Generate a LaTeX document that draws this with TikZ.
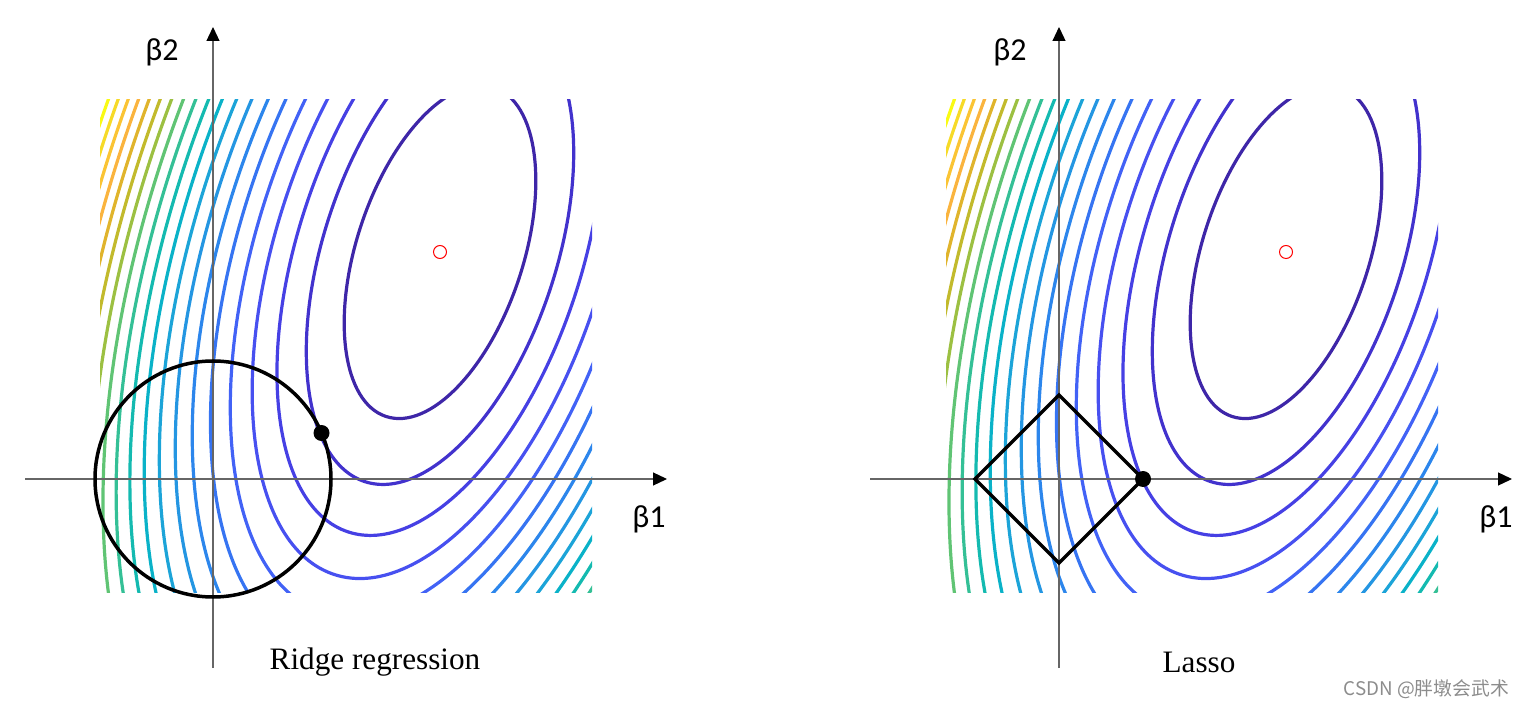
\documentclass[tikz,border=0pt]{standalone}
\usepackage{fontspec}
\setmainfont{Liberation Serif}
\newfontfamily\betafont{Carlito}
\newfontfamily\cjkfont{Noto Sans CJK SC}
\usetikzlibrary{arrows.meta}

% contour colours, inner (1) to outer (20)
\definecolor{lv1}{RGB}{62,38,168}
\definecolor{lv2}{RGB}{66,50,205}
\definecolor{lv3}{RGB}{70,64,228}
\definecolor{lv4}{RGB}{71,80,240}
\definecolor{lv5}{RGB}{66,98,246}
\definecolor{lv6}{RGB}{54,116,242}
\definecolor{lv7}{RGB}{44,134,236}
\definecolor{lv8}{RGB}{36,150,226}
\definecolor{lv9}{RGB}{28,164,216}
\definecolor{lv10}{RGB}{10,178,200}
\definecolor{lv11}{RGB}{20,186,176}
\definecolor{lv12}{RGB}{52,192,150}
\definecolor{lv13}{RGB}{96,196,116}
\definecolor{lv14}{RGB}{156,192,66}
\definecolor{lv15}{RGB}{194,186,44}
\definecolor{lv16}{RGB}{224,180,44}
\definecolor{lv17}{RGB}{250,180,62}
\definecolor{lv18}{RGB}{250,196,52}
\definecolor{lv19}{RGB}{246,218,40}
\definecolor{lv20}{RGB}{249,250,20}

\tikzset{
  contour/.style={line width=1.6pt},
  axis/.style={draw=black!60,line width=0.6pt,-{Triangle[length=7pt,width=6.5pt,black]}},
  constraint/.style={draw=black,line width=1.75pt},
  axlabel/.style={font=\betafont\fontsize{16}{16}\selectfont},
  caption/.style={font=\fontsize{15.6}{16}\selectfont},
}

% level sets of the loss, clipped to the plot window
\newcommand{\costcontours}{%
  \begin{scope}
    \clip (-113,-113) rectangle (379,379);
    \foreach \n in {1,...,20}{
      \pgfmathsetmacro{\s}{sqrt(\n+0.055)}
      \draw[contour,lv\n,rotate around={71.84:(227,227)}] (227,227)
        ellipse [x radius=168.55*\s,y radius=81.11*\s];
    }
  \end{scope}}

\begin{document}
\begin{tikzpicture}[x=0.5pt,y=0.5pt]
\useasboundingbox (0,0) rectangle (1529,707);

% ridge
\begin{scope}[shift={(213,228)}]
  \costcontours
  \draw[axis] (-188,0) -- (454,0);
  \draw[axis] (0,-189) -- (0,452);
  \node[axlabel] (rb1) at (436,-40) {β1};
  \node[axlabel] (rb2) at (-51,427) {β2};
  \draw[constraint] (0,0) circle [radius=118];
  \fill (108.5,46) circle [radius=8];
  \draw[red,line width=0.5pt] (227,227) circle [radius=6.5];
  \node[caption] (ridge) at (162,-183) {Ridge regression};
\end{scope}

% lasso
\begin{scope}[shift={(1059,228)}]
  \costcontours
  \draw[axis] (-189,0) -- (453,0);
  \draw[axis] (0,-189) -- (0,452);
  \node[axlabel] (lb1) at (437,-40) {β1};
  \node[axlabel] (lb2) at (-49,427) {β2};
  \draw[constraint] (-84,0) -- (0,84) -- (84,0) -- (0,-84) -- cycle;
  \fill (84,0) circle [radius=8];
  \draw[red,line width=0.5pt] (227,227) circle [radius=6.5];
  \node[caption] (lasso) at (140,-183) {Lasso};
\end{scope}

\node[anchor=east,text=black!45,font=\cjkfont\fontsize{9.4}{10}\selectfont] (mark) at (1516,18) {CSDN @胖墩会武术};
\end{tikzpicture}
\end{document}
